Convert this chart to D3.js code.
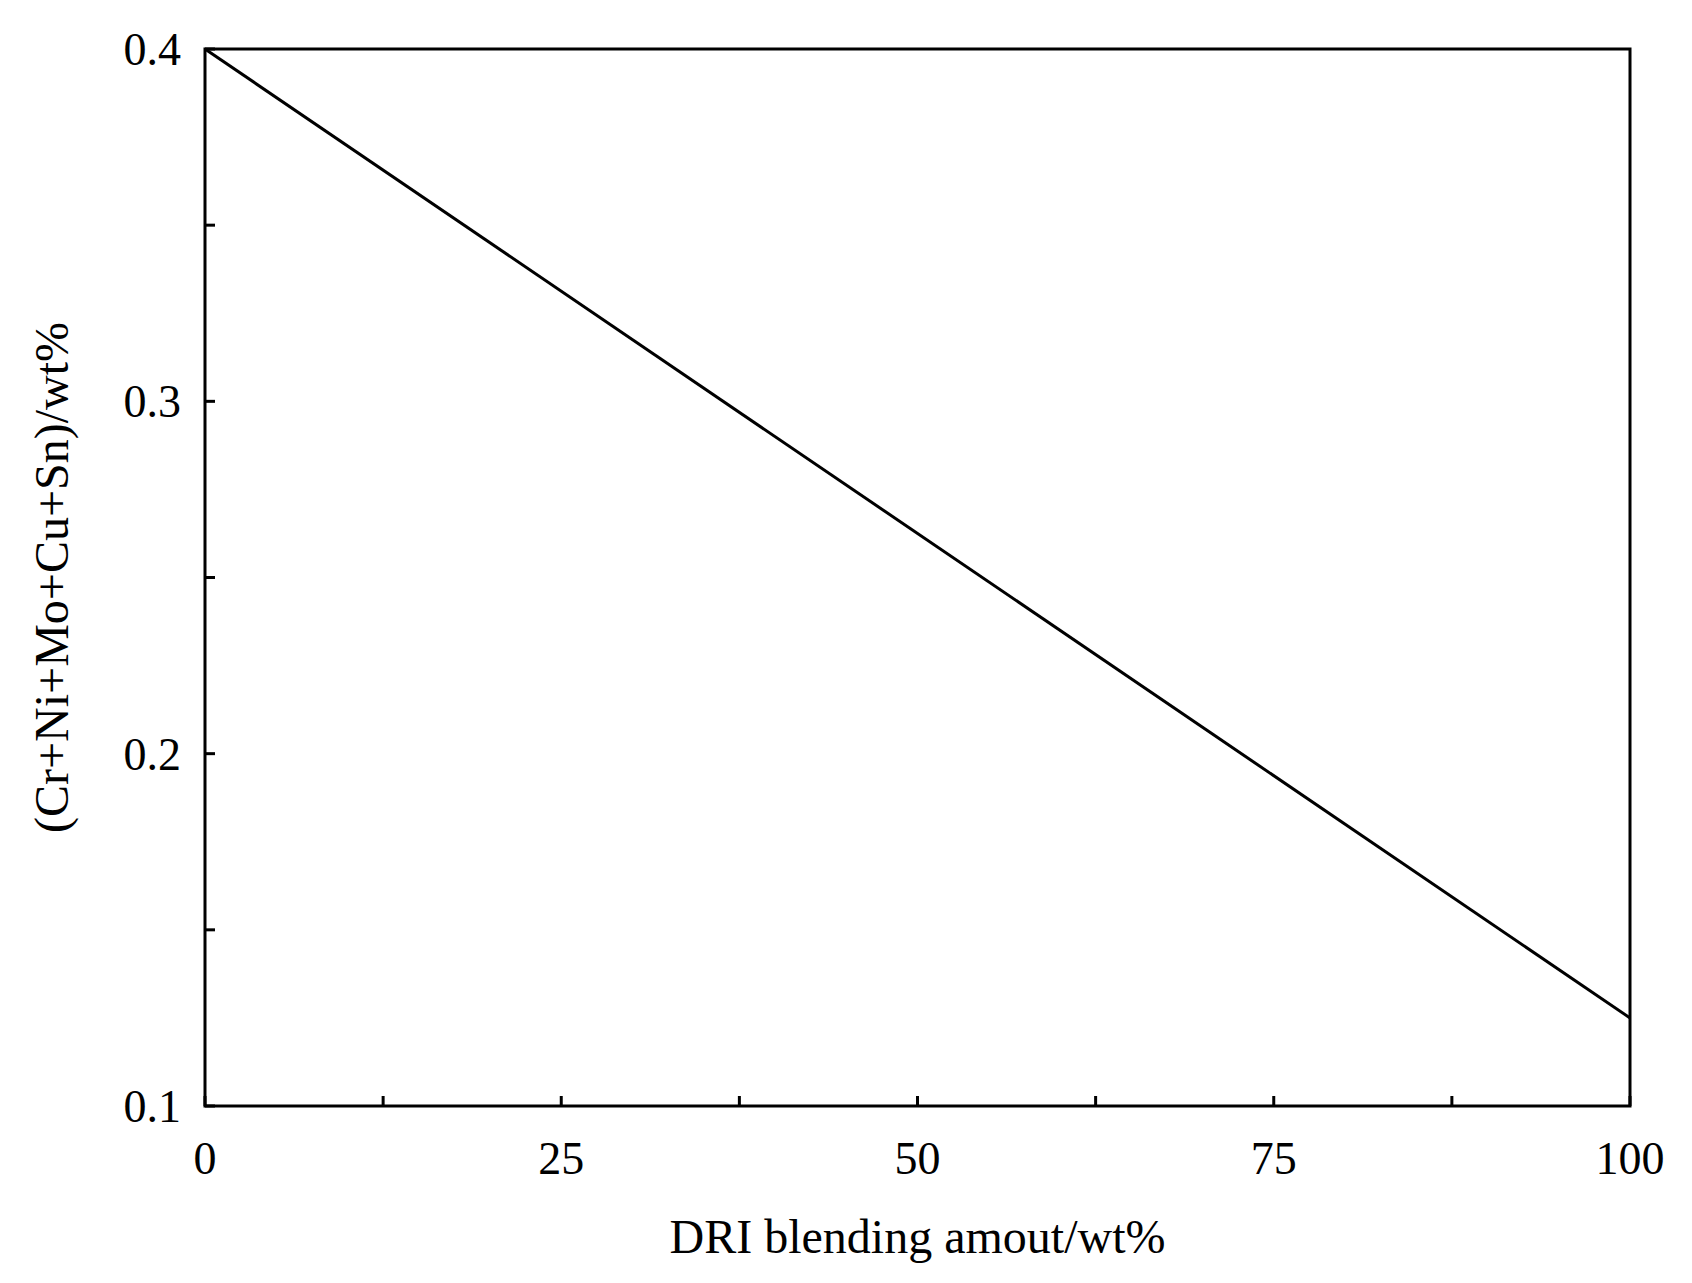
<!DOCTYPE html>
<html><head><meta charset="utf-8">
<script src="https://cdn.jsdelivr.net/npm/d3@7"></script>
<style>body{margin:0;background:#fff}</style>
</head><body>
<script>
const blend = [0, 100];
const content = [0.4, 0.125];
const xTicks = [0, 25, 50, 75, 100];
const yTicks = [0.1, 0.2, 0.3, 0.4];

const W = 1692, H = 1283;
const m = { left: 205, top: 49, right: 1630, bottom: 1106 };
const svg = d3.select("body").append("svg").attr("width", W).attr("height", H)
  .style("font-family", "'Liberation Serif', 'Times New Roman', serif");

const x = d3.scaleLinear().domain([0, 100]).range([m.left, m.right]);
const y = d3.scaleLinear().domain([0.1, 0.4]).range([m.bottom, m.top]);

// minor ticks
const minorX = d3.range(12.5, 100, 25), minorY = [0.15, 0.25, 0.35];
const g = svg.append("g").attr("stroke", "#000").attr("stroke-width", 3);
xTicks.concat(minorX).forEach(v => {
  g.append("line").attr("x1", x(v)).attr("x2", x(v)).attr("y1", m.bottom).attr("y2", m.bottom - 10);
});
yTicks.concat(minorY).forEach(v => {
  g.append("line").attr("x1", m.left).attr("x2", m.left + 10).attr("y1", y(v)).attr("y2", y(v));
});

svg.append("path")
  .datum(blend.map((b, i) => [b, content[i]]))
  .attr("fill", "none").attr("stroke", "#000").attr("stroke-width", 3)
  .attr("d", d3.line().x(d => x(d[0])).y(d => y(d[1])));

svg.append("rect").attr("x", m.left).attr("y", m.top)
  .attr("width", m.right - m.left).attr("height", m.bottom - m.top)
  .attr("fill", "none").attr("stroke", "#000").attr("stroke-width", 3);

svg.selectAll(".xt").data(xTicks).enter().append("text")
  .attr("x", d => x(d)).attr("y", m.bottom + 68).attr("text-anchor", "middle")
  .attr("font-size", 46).text(d => d);
svg.selectAll(".yt").data(yTicks).enter().append("text")
  .attr("x", m.left - 24).attr("y", d => y(d) + 16).attr("text-anchor", "end")
  .attr("font-size", 46).text(d => d.toFixed(1));

svg.append("text").attr("x", (m.left + m.right) / 2).attr("y", 1253)
  .attr("text-anchor", "middle").attr("font-size", 48).text("DRI blending amout/wt%");
svg.append("text").attr("transform", `translate(68,${(m.top + m.bottom) / 2}) rotate(-90)`)
  .attr("text-anchor", "middle").attr("font-size", 48).text("(Cr+Ni+Mo+Cu+Sn)/wt%");
</script>
</body></html>
